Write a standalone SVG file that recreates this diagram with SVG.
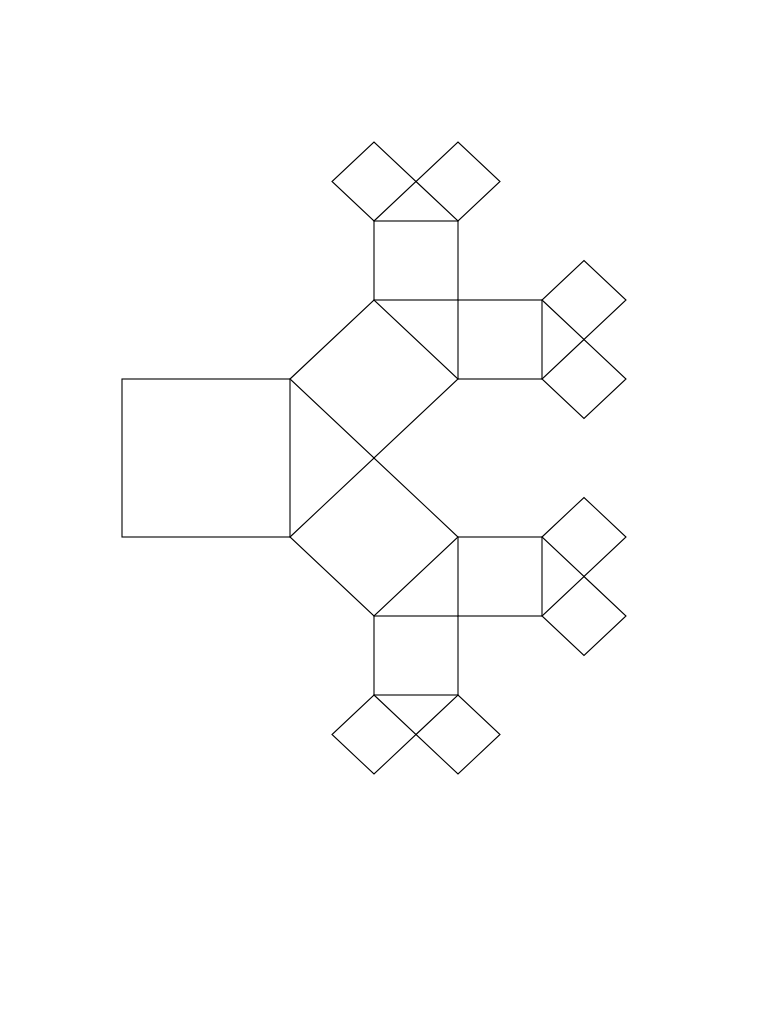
<svg xmlns="http://www.w3.org/2000/svg" width="768" height="1024" viewBox="0 0 768 1024">
<style>
.s{fill:none;stroke:#000;stroke-width:1.1;stroke-linejoin:miter}
</style>
<rect width="768" height="1024" fill="#fff"/>
<g id="trunk"><rect class="s" x="122" y="379" width="168" height="158"/></g>
<g id="upper-diamond"><polygon class="s" points="290,379 374,300 458,379 374,458"/></g>
<g id="lower-diamond"><polygon class="s" points="290,537 374,458 458,537 374,616"/></g>
<g id="upper-top-square"><rect class="s" x="374" y="221" width="84" height="79"/></g>
<g id="upper-right-square"><rect class="s" x="458" y="300" width="84" height="79"/></g>
<g id="lower-right-square"><rect class="s" x="458" y="537" width="84" height="79"/></g>
<g id="lower-bottom-square"><rect class="s" x="374" y="616" width="84" height="79"/></g>
<g id="top-left-leaf"><polygon class="s" points="374,221 416,181.5 374,142 332,181.5"/></g>
<g id="top-right-leaf"><polygon class="s" points="416,181.5 458,221 500,181.5 458,142"/></g>
<g id="right-upper-leaf-a"><polygon class="s" points="542,300 584,339.5 626,300 584,260.5"/></g>
<g id="right-upper-leaf-b"><polygon class="s" points="584,339.5 542,379 584,418.5 626,379"/></g>
<g id="right-lower-leaf-a"><polygon class="s" points="542,537 584,497.5 626,537 584,576.5"/></g>
<g id="right-lower-leaf-b"><polygon class="s" points="584,576.5 626,616 584,655.5 542,616"/></g>
<g id="bottom-left-leaf"><polygon class="s" points="374,695 416,734.5 374,774 332,734.5"/></g>
<g id="bottom-right-leaf"><polygon class="s" points="416,734.5 458,695 500,734.5 458,774"/></g>
<g id="connectors"></g>
</svg>
